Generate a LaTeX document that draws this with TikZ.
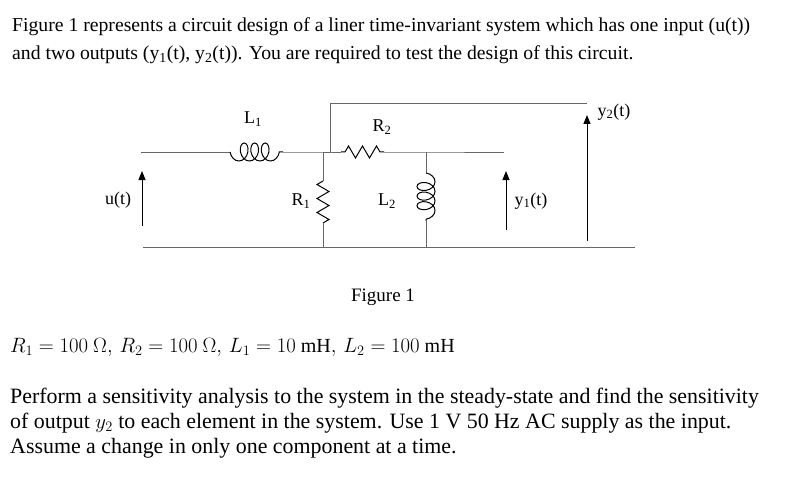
\documentclass[tikz,border=0pt]{standalone}
\usepackage{fontspec}
\setmainfont{Liberation Serif}
\usetikzlibrary{decorations.pathmorphing,arrows.meta}
\begin{document}
\begin{tikzpicture}[x=1pt,y=-1pt,
  wire/.style={draw=black!60,line width=0.9pt},
  comp/.style={draw=black,line width=1pt},
  arr/.style={draw=black,line width=1pt,-{Triangle[length=9pt,width=7pt]}},
  lab/.style={font=\fontsize{18}{18}\selectfont,inner sep=0pt},
  txt/.style={anchor=west,inner sep=0pt,font=\fontsize{19.7}{22}\selectfont}]
\useasboundingbox (0,0) rectangle (802,481);
\node[txt] (t1) at (12,27) {Figure 1 represents a circuit design of a liner time-invariant system which has one input (u(t))};
\node[txt] (t2) at (12,55) {and two outputs (y\textsubscript{1}(t), y\textsubscript{2}(t)). You are required to test the design of this circuit.};
\coordinate (a) at (141,152);
\coordinate (l1a) at (230,152);
\coordinate (l1b) at (283,152);
\coordinate (j) at (323,152);
\coordinate (r2a) at (341,152);
\coordinate (r2b) at (384,152);
\coordinate (j2) at (426,152);
\coordinate (e) at (504,152);
\coordinate (ta) at (330,103);
\coordinate (tb) at (587,103);
\coordinate (ba) at (143,247);
\coordinate (bb) at (635,247);
\coordinate (jb) at (323,247);
\coordinate (j2b) at (426,247);
\draw[wire] (a) -- (l1a);
\draw[comp,decoration={coil,aspect=0.7,segment length=10.5pt,amplitude=9pt,mirror},decorate] (l1a) -- (l1b);
\draw[wire] (l1b) -- (j) -- (r2a);
\draw[comp] (r2a) -- ++(4,0) -- ++(3.5,-6) -- ++(7,12) -- ++(7,-12) -- ++(7,12) -- ++(7,-12) -- ++(3.5,6) -- (r2b);
\draw[wire] (r2b) -- (j2) -- (e);
\draw[wire] (ta) |- (j);
\draw[wire] (ta) -- (tb);
\draw[wire] (ba) -- (bb);
\draw[wire] (j) -- (323,181);
\draw[comp] (323,181) -- ++(-6,3.5) -- ++(12,7) -- ++(-12,7) -- ++(12,7) -- ++(-12,7) -- ++(12,7) -- ++(-6,3.5);
\draw[wire] (323,223) -- (jb);
\draw[wire] (j2) -- (426,173);
\draw[comp,decoration={coil,aspect=0.7,segment length=9.6pt,amplitude=9pt},decorate] (426,173) -- (426,221);
\draw[wire] (426,221) -- (j2b);
\coordinate (u0) at (142,226); \coordinate (u1) at (142,171);
\coordinate (y10) at (506,230); \coordinate (y11) at (506,171);
\coordinate (y20) at (587,241); \coordinate (y21) at (587,115);
\draw[arr] (u0) -- (u1);
\draw[arr] (y10) -- (y11);
\draw[arr] (y20) -- (y21);
\node[lab] (nL1) at (253,119) {L\textsubscript{1}};
\node[lab] (nR2) at (382,127) {R\textsubscript{2}};
\node[lab] (nu) at (118,200) {u(t)};
\node[lab] (nR1) at (301,201) {R\textsubscript{1}};
\node[lab] (nL2) at (387,201) {L\textsubscript{2}};
\node[lab] (ny1) at (531,201) {y\textsubscript{1}(t)};
\node[lab] (ny2) at (614,112) {y\textsubscript{2}(t)};
\node[inner sep=0pt,font=\fontsize{19}{20}\selectfont] (fig) at (383,297) {Figure 1};
\node[anchor=west,inner sep=0pt,font=\fontsize{20}{22}\selectfont] (eq) at (10,347) {$R_1=100\ \Omega,\, R_2=100\ \Omega,\, L_1=10\ \mathrm{mH},\, L_2=100\ \mathrm{mH}$};
\node[anchor=north west,inner sep=0pt,align=left,font=\fontsize{21.9}{25}\selectfont] (p) at (10,388) {Perform a sensitivity analysis to the system in the steady-state and find the sensitivity\\of output $y_2$ to each element in the system. Use 1 V 50 Hz AC supply as the input.\\Assume a change in only one component at a time.};
\end{tikzpicture}
\end{document}
